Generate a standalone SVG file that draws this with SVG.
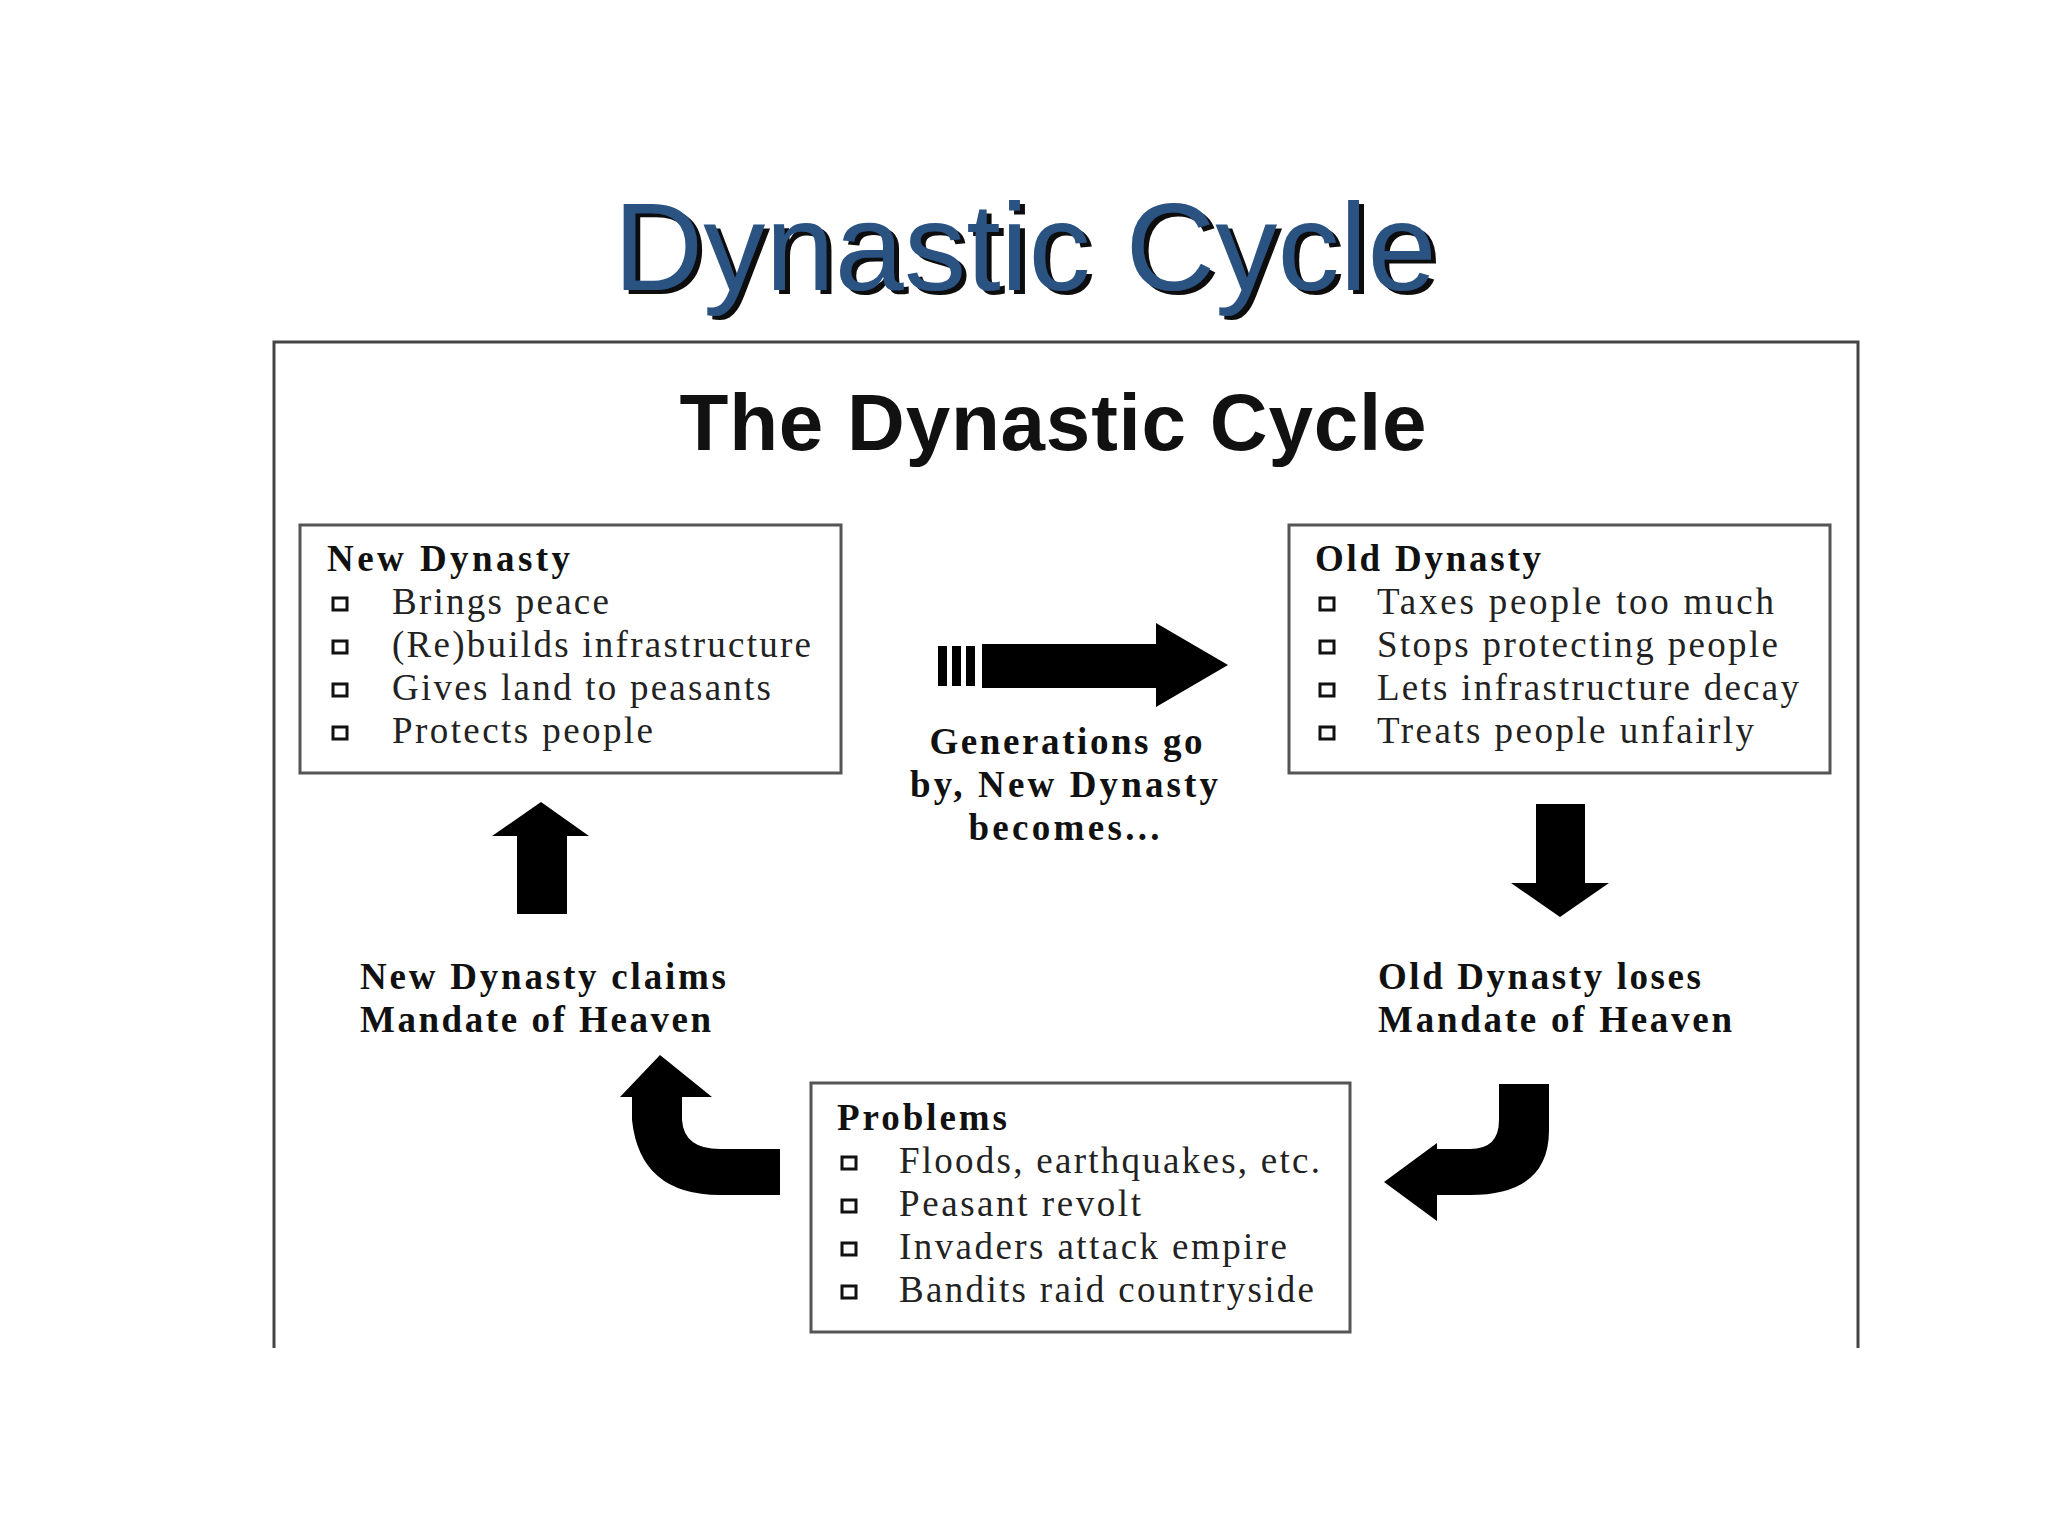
<svg xmlns="http://www.w3.org/2000/svg" width="2048" height="1536" viewBox="0 0 2048 1536">
<defs><filter id="sh" x="-5%" y="-20%" width="110%" height="140%"><feDropShadow dx="5" dy="4" stdDeviation="0.5" flood-color="#111"/></filter></defs>
<style>
.t{font-family:"Liberation Serif",serif;font-size:37px;fill:#222}
.b{font-family:"Liberation Serif",serif;font-size:37px;font-weight:bold;fill:#111}
.box{fill:#fff;stroke:#555;stroke-width:3}
.bul{fill:#fff;stroke:#111;stroke-width:3}
.ar{fill:#000}
</style>
<rect width="2048" height="1536" fill="#fff"/>
<g id="title">
<text x="1025" y="290" text-anchor="middle" font-family="Liberation Sans,Arial,sans-serif" font-size="124" fill="#2c5282" textLength="823" filter="url(#sh)">Dynastic Cycle</text>
</g>
<g id="frame"><path d="M274 1348V342H1858V1348" fill="none" stroke="#444" stroke-width="3"/></g>
<text x="1053" y="450" text-anchor="middle" font-family="Liberation Sans,Arial,sans-serif" font-weight="bold" font-size="80" fill="#111" textLength="747">The Dynastic Cycle</text>
<g id="new">
<rect class="box" x="300" y="525" width="541" height="248"/>
<text class="b" x="327" y="571" textLength="243">New Dynasty</text>
<rect class="bul" x="333" y="598" width="14" height="12"/><text class="t" x="392" y="614" textLength="217">Brings peace</text>
<rect class="bul" x="333" y="641" width="14" height="12"/><text class="t" x="392" y="657" textLength="419">(Re)builds infrastructure</text>
<rect class="bul" x="333" y="684" width="14" height="12"/><text class="t" x="392" y="700" textLength="379">Gives land to peasants</text>
<rect class="bul" x="333" y="727" width="14" height="12"/><text class="t" x="392" y="743" textLength="261">Protects people</text>
</g>
<g id="old">
<rect class="box" x="1289" y="525" width="541" height="248"/>
<text class="b" x="1315" y="571" textLength="226">Old Dynasty</text>
<rect class="bul" x="1320" y="598" width="14" height="12"/><text class="t" x="1377" y="614" textLength="397">Taxes people too much</text>
<rect class="bul" x="1320" y="641" width="14" height="12"/><text class="t" x="1377" y="657" textLength="401">Stops protecting people</text>
<rect class="bul" x="1320" y="684" width="14" height="12"/><text class="t" x="1377" y="700" textLength="422">Lets infrastructure decay</text>
<rect class="bul" x="1320" y="727" width="14" height="12"/><text class="t" x="1377" y="743" textLength="377">Treats people unfairly</text>
</g>
<g id="problems">
<rect class="box" x="811" y="1083" width="539" height="249"/>
<text class="b" x="837" y="1130" textLength="170">Problems</text>
<rect class="bul" x="842" y="1157" width="14" height="12"/><text class="t" x="899" y="1173" textLength="421">Floods, earthquakes, etc.</text>
<rect class="bul" x="842" y="1200" width="14" height="12"/><text class="t" x="899" y="1216" textLength="242">Peasant revolt</text>
<rect class="bul" x="842" y="1243" width="14" height="12"/><text class="t" x="899" y="1259" textLength="388">Invaders attack empire</text>
<rect class="bul" x="842" y="1286" width="14" height="12"/><text class="t" x="899" y="1302" textLength="415">Bandits raid countryside</text>
</g>
<g id="labels">
<text class="b" text-anchor="middle" x="1066" y="754" textLength="273">Generations go</text>
<text class="b" text-anchor="middle" x="1064" y="797" textLength="308">by, New Dynasty</text>
<text class="b" text-anchor="middle" x="1064" y="840" textLength="191">becomes...</text>
<text class="b" x="360" y="989" textLength="366">New Dynasty claims</text>
<text class="b" x="360" y="1032" textLength="351">Mandate of Heaven</text>
<text class="b" x="1378" y="989" textLength="323">Old Dynasty loses</text>
<text class="b" x="1378" y="1032" textLength="354">Mandate of Heaven</text>
</g>
<g id="connectors">
<rect class="ar" x="938" y="646" width="9" height="40"/>
<rect class="ar" x="952" y="646" width="9" height="40"/>
<rect class="ar" x="966" y="646" width="9" height="40"/>
<polygon class="ar" points="982,644 1156,644 1156,623 1228,665 1156,707 1156,688 982,688"/>
<polygon class="ar" points="517,914 567,914 567,836 589,836 541,802 492,836 517,836"/>
<polygon class="ar" points="1536,804 1585,804 1585,883 1609,883 1560,917 1511,883 1536,883"/>
<path class="ar" d="M780 1149V1195H720Q640 1195 632 1120V1097H620L660 1055 712 1097H682V1120Q684 1149 720 1149Z"/>
<path class="ar" d="M1499 1084H1549V1130Q1549 1195 1470 1195H1437V1221L1384 1182 1437 1143V1149H1470Q1499 1149 1499 1120Z"/>
</g>
</svg>
